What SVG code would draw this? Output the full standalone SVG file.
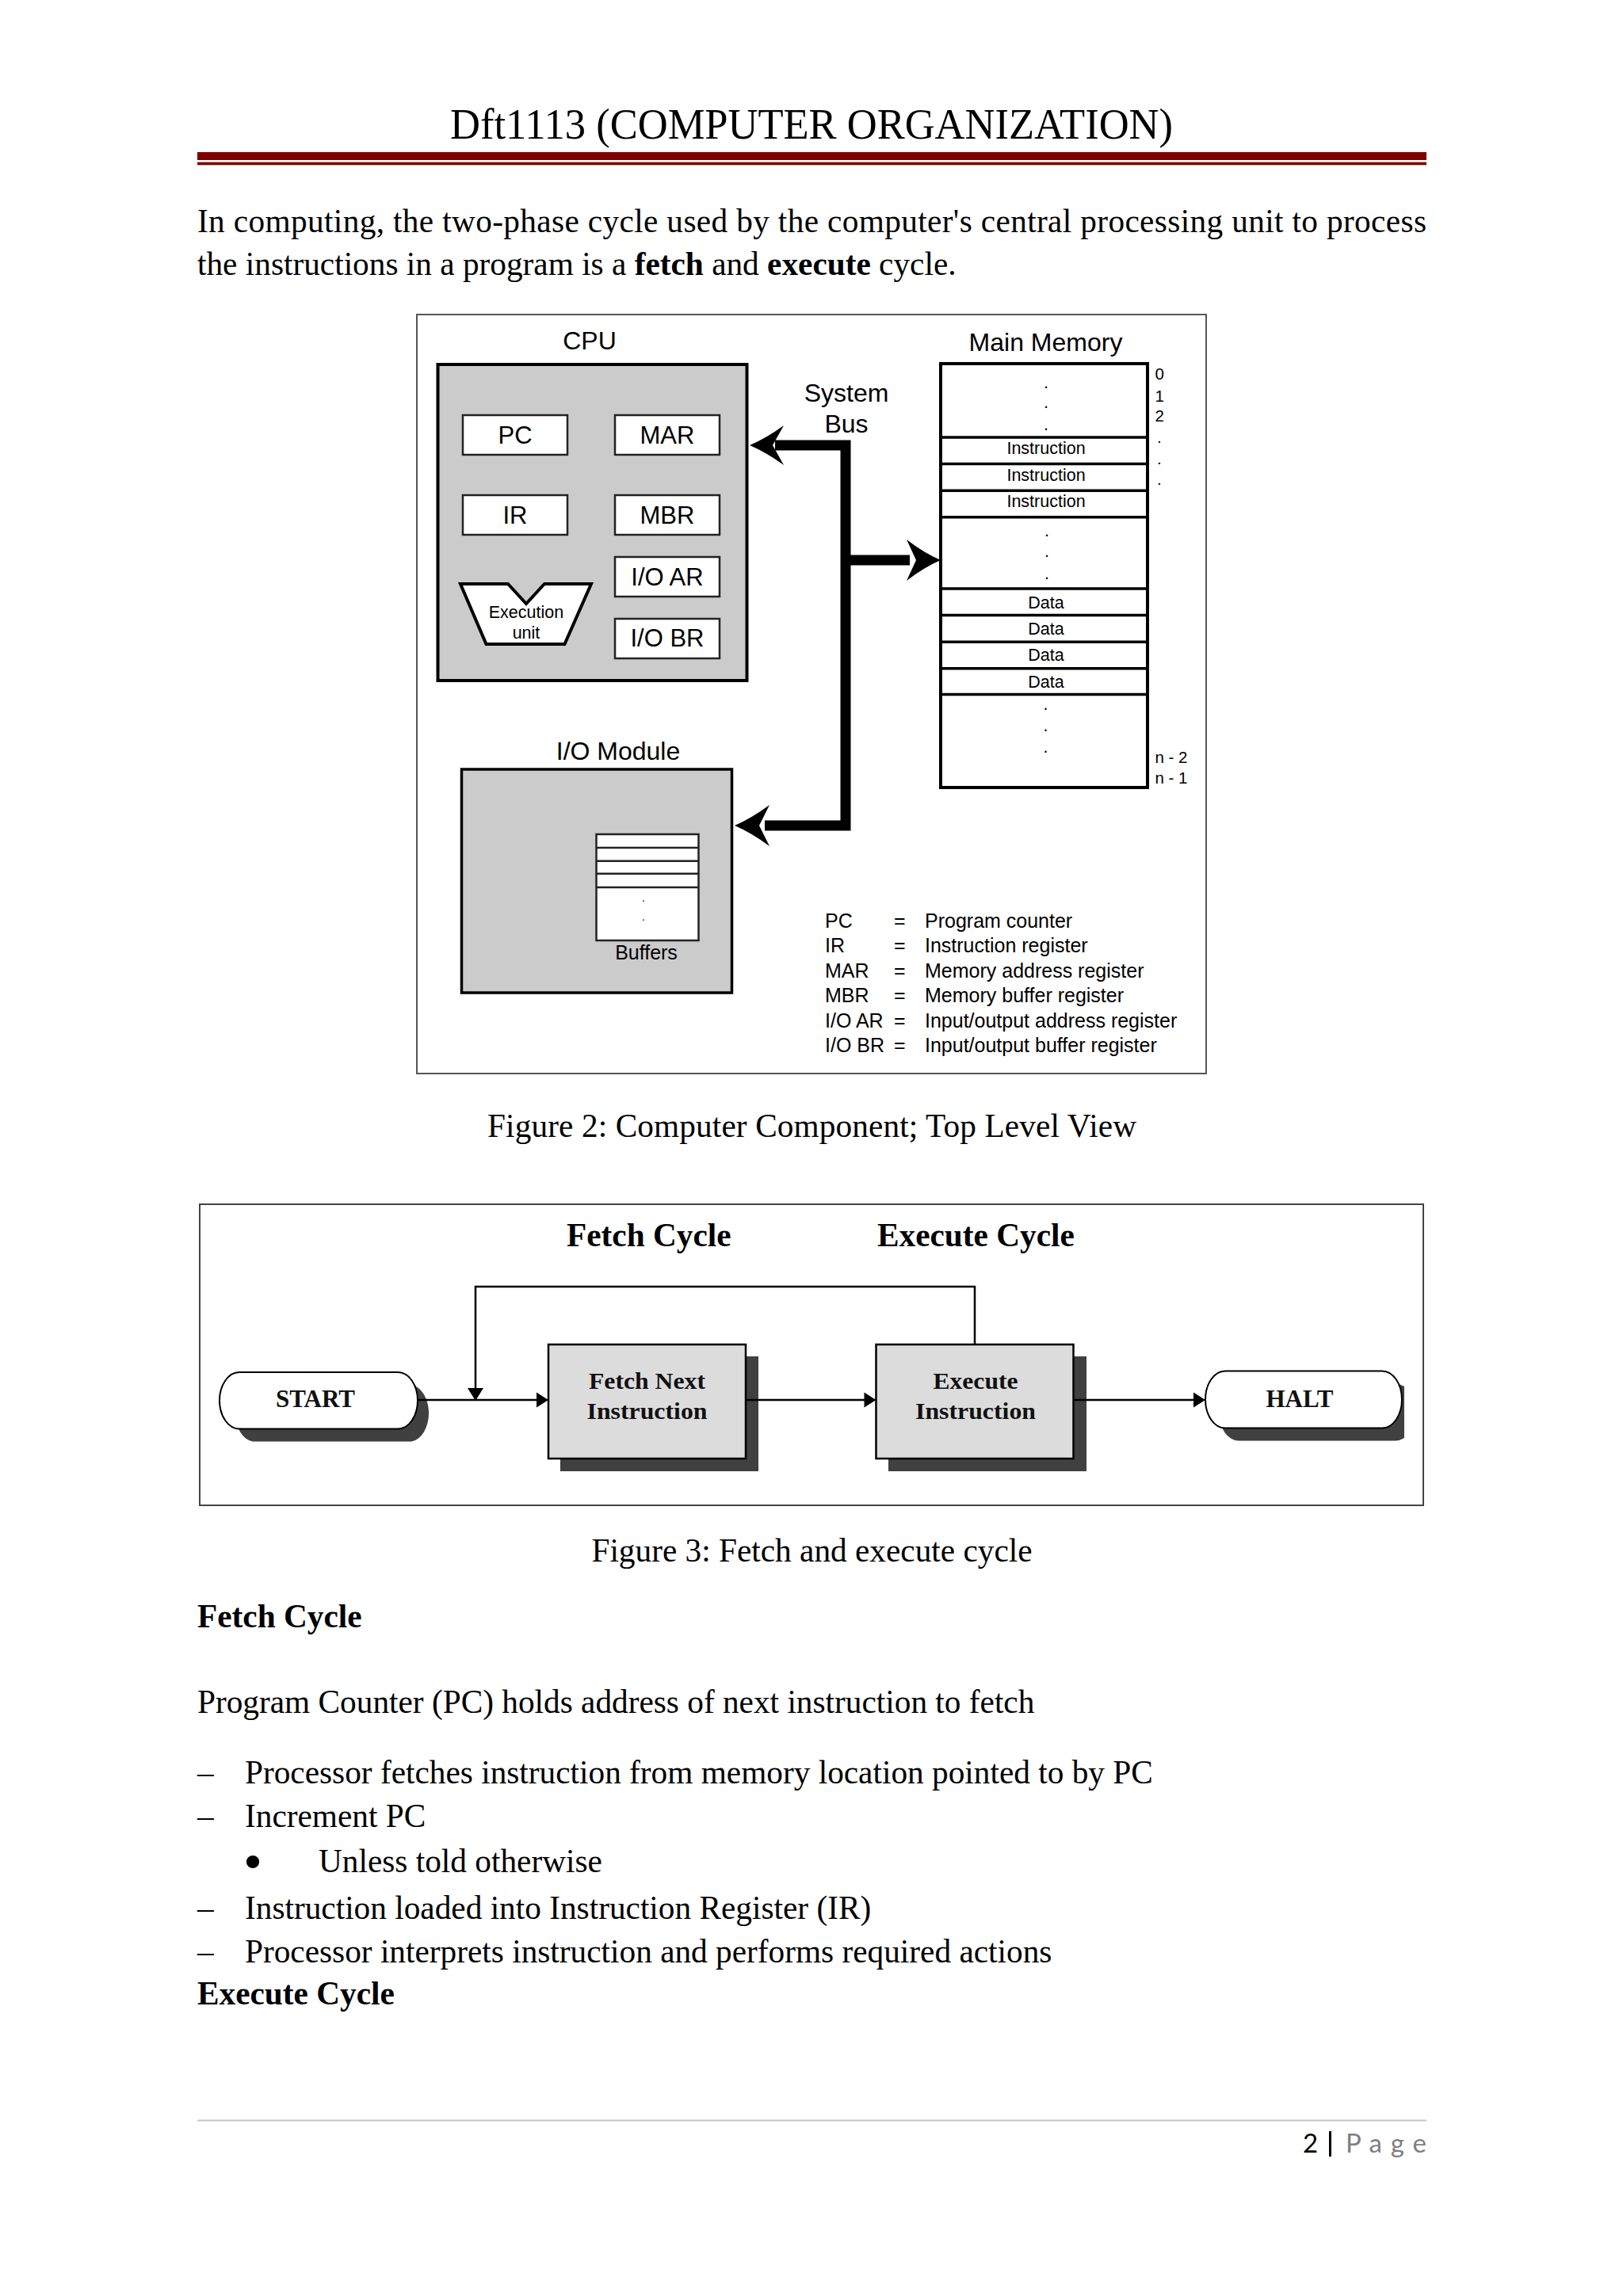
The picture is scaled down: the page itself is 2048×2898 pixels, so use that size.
<svg xmlns="http://www.w3.org/2000/svg" width="2048" height="2898" viewBox="0 0 2048 2898">
<defs>
<style>
.body{font-family:"Liberation Serif","Times New Roman",serif;font-size:41.3px;fill:#000}
.bold{font-weight:bold}
.sans{font-family:"Liberation Sans",Arial,sans-serif;fill:#000}
.reg{fill:#fff;stroke:#222;stroke-width:2.5}
.lbl{font-size:31px;text-anchor:middle}
.ttl{font-size:32px;text-anchor:middle}
.mem{font-size:21.5px;text-anchor:middle}
.addr{font-size:20.5px}
.leg{font-size:25px}
.rowline{stroke:#000;stroke-width:3.5}
.bus{fill:none;stroke:#000;stroke-width:13;stroke-linejoin:miter}
.head{fill:#000}
.flow{fill:none;stroke:#000;stroke-width:2.5}
.shadow{fill:#404040}
.pbox{fill:#dcdcdc;stroke:#000;stroke-width:2.5}
.pill{fill:#fff;stroke:#000;stroke-width:2}
.ftxt{font-family:"Liberation Serif","Times New Roman",serif;font-weight:bold;text-anchor:middle;fill:#111}
</style>
<clipPath id="haltclip"><rect x="1500" y="1700" width="272" height="140"/></clipPath>
</defs>
<rect width="2048" height="2898" fill="#fff"/>

<g id="header">
<text x="1024" y="175" text-anchor="middle" font-family="Liberation Serif, serif" font-size="54" textLength="912" lengthAdjust="spacingAndGlyphs">Dft1113 (COMPUTER ORGANIZATION)</text>
<rect x="249" y="192" width="1551" height="10" fill="#7f0000"/>
<rect x="249" y="204" width="1551" height="5" fill="#d9a5a5"/>
<rect x="249" y="205" width="1551" height="3" fill="#7f0000"/>
</g>

<g id="intro">
<text class="body" x="249" y="293" textLength="1551" lengthAdjust="spacing">In computing, the two-phase cycle used by the computer's central processing unit to process</text>
<text class="body" x="249" y="347">the instructions in a program is a <tspan class="bold">fetch</tspan> and <tspan class="bold">execute</tspan> cycle.</text>
</g>

<g id="figure2">
<rect id="fig2-frame" x="526" y="397" width="996" height="958" fill="none" stroke="#555" stroke-width="2"/>

<g id="cpu">
<text class="sans ttl" x="744" y="441">CPU</text>
<rect x="552.5" y="460" width="390" height="399" fill="#cbcbcb" stroke="#000" stroke-width="4"/>
</g>
<g id="pc"><rect class="reg" x="584" y="524" width="132" height="50"/><text class="sans lbl" x="650" y="560">PC</text></g>
<g id="mar"><rect class="reg" x="776" y="524" width="132" height="50"/><text class="sans lbl" x="842" y="560">MAR</text></g>
<g id="ir"><rect class="reg" x="584" y="625" width="132" height="50"/><text class="sans lbl" x="650" y="661">IR</text></g>
<g id="mbr"><rect class="reg" x="776" y="625" width="132" height="50"/><text class="sans lbl" x="842" y="661">MBR</text></g>
<g id="ioar"><rect class="reg" x="776" y="703" width="132" height="50"/><text class="sans lbl" x="842" y="738.5">I/O AR</text></g>
<g id="iobr"><rect class="reg" x="776" y="781" width="132" height="50"/><text class="sans lbl" x="842" y="816">I/O BR</text></g>
<g id="exec-unit">
<polygon points="581,737 641,737 664,762 687,737 746,737 712.5,813 613.5,813" fill="#fff" stroke="#000" stroke-width="4"/>
<text class="sans" font-size="21.5" text-anchor="middle" x="664" y="780">Execution</text>
<text class="sans" font-size="21.5" text-anchor="middle" x="664" y="806">unit</text>
</g>

<g id="system-bus-label">
<text class="sans ttl" x="1068" y="506.5">System</text>
<text class="sans ttl" x="1068" y="546">Bus</text>
</g>

<g id="main-memory">
<text class="sans ttl" x="1319.5" y="443">Main Memory</text>
<rect x="1187" y="459" width="261" height="535" fill="#fff" stroke="#000" stroke-width="4"/>
<line class="rowline" x1="1187" y1="552" x2="1448" y2="552"/>
<line class="rowline" x1="1187" y1="585.6" x2="1448" y2="585.6"/>
<line class="rowline" x1="1187" y1="619.2" x2="1448" y2="619.2"/>
<line class="rowline" x1="1187" y1="652.8" x2="1448" y2="652.8"/>
<line class="rowline" x1="1187" y1="743" x2="1448" y2="743"/>
<line class="rowline" x1="1187" y1="776.6" x2="1448" y2="776.6"/>
<line class="rowline" x1="1187" y1="810.2" x2="1448" y2="810.2"/>
<line class="rowline" x1="1187" y1="843.8" x2="1448" y2="843.8"/>
<line class="rowline" x1="1187" y1="876.6" x2="1448" y2="876.6"/>
<text class="sans mem" x="1320" y="489.5">.</text>
<text class="sans mem" x="1320" y="515">.</text>
<text class="sans mem" x="1320" y="543">.</text>
<text class="sans mem" x="1320" y="573">Instruction</text>
<text class="sans mem" x="1320" y="606.5">Instruction</text>
<text class="sans mem" x="1320" y="639.5">Instruction</text>
<text class="sans mem" x="1321" y="676.5">.</text>
<text class="sans mem" x="1321" y="703">.</text>
<text class="sans mem" x="1321" y="730.5">.</text>
<text class="sans mem" x="1320" y="767.5">Data</text>
<text class="sans mem" x="1320" y="801">Data</text>
<text class="sans mem" x="1320" y="834">Data</text>
<text class="sans mem" x="1320" y="867.5">Data</text>
<text class="sans mem" x="1319.5" y="895.5">.</text>
<text class="sans mem" x="1319.5" y="922.5">.</text>
<text class="sans mem" x="1319.5" y="950">.</text>
<text class="sans addr" x="1457.5" y="479">0</text>
<text class="sans addr" x="1457.5" y="506.5">1</text>
<text class="sans addr" x="1457.5" y="531.5">2</text>
<text class="sans addr" x="1460" y="558.5">.</text>
<text class="sans addr" x="1460" y="586">.</text>
<text class="sans addr" x="1460" y="612">.</text>
<text class="sans addr" x="1457.5" y="963">n - 2</text>
<text class="sans addr" x="1457.5" y="989">n - 1</text>
</g>

<g id="io-module">
<text class="sans ttl" x="780" y="959">I/O Module</text>
<rect x="582.5" y="971" width="341" height="282" fill="#cbcbcb" stroke="#000" stroke-width="3.5"/>
<rect x="752.5" y="1053" width="129" height="134" fill="#fff" stroke="#222" stroke-width="2.5"/>
<line x1="752.5" y1="1070" x2="881.5" y2="1070" stroke="#222" stroke-width="2.5"/>
<line x1="752.5" y1="1086.7" x2="881.5" y2="1086.7" stroke="#222" stroke-width="2.5"/>
<line x1="752.5" y1="1102.7" x2="881.5" y2="1102.7" stroke="#222" stroke-width="2.5"/>
<line x1="752.5" y1="1120" x2="881.5" y2="1120" stroke="#222" stroke-width="2.5"/>
<text class="sans" font-size="14" text-anchor="middle" x="812" y="1138">.</text>
<text class="sans" font-size="14" text-anchor="middle" x="812" y="1162">.</text>
<text class="sans" font-size="25" text-anchor="middle" x="815.5" y="1210.5">Buffers</text>
</g>

<g id="legend" class="sans leg">
<text x="1041" y="1170.5">PC</text><text x="1128" y="1170.5">=</text><text x="1167" y="1170.5">Program counter</text>
<text x="1041" y="1202">IR</text><text x="1128" y="1202">=</text><text x="1167" y="1202">Instruction register</text>
<text x="1041" y="1233.5">MAR</text><text x="1128" y="1233.5">=</text><text x="1167" y="1233.5">Memory address register</text>
<text x="1041" y="1265">MBR</text><text x="1128" y="1265">=</text><text x="1167" y="1265">Memory buffer register</text>
<text x="1041" y="1296.5">I/O AR</text><text x="1128" y="1296.5">=</text><text x="1167" y="1296.5">Input/output address register</text>
<text x="1041" y="1328">I/O BR</text><text x="1128" y="1328">=</text><text x="1167" y="1328">Input/output buffer register</text>
</g>

<g id="bus-connectors">
<path class="bus" d="M978 562 H1067 V1042 H965"/>
<path class="bus" d="M1067 707 H1148"/>
<path class="head" d="M946,562 Q967,553 989,537 L975,562 L989,587 Q967,571 946,562 Z"/>
<path class="head" d="M1187,707 Q1166,698 1144,681 L1156,707 L1144,733 Q1166,716 1187,707 Z"/>
<path class="head" d="M927,1042 Q948,1033 971,1016 L958,1042 L971,1068 Q948,1051 927,1042 Z"/>
</g>
</g>

<text class="body" x="1024.5" y="1435" text-anchor="middle" textLength="819" lengthAdjust="spacing">Figure 2: Computer Component; Top Level View</text>

<g id="figure3">
<rect id="fig3-frame" x="252" y="1520" width="1544" height="380" fill="none" stroke="#444" stroke-width="2"/>
<text class="body bold" x="715" y="1573">Fetch Cycle</text>
<text class="body bold" x="1107" y="1573">Execute Cycle</text>

<g id="start">
<path class="shadow" d="M319,1748 H519 A25,36 0 0 1 519,1819.5 H319 A25,36 0 0 1 319,1748 Z"/>
<path class="pill" d="M302,1732 H502 A25,35.75 0 0 1 502,1803.5 H302 A25,35.75 0 0 1 302,1732 Z"/>
<text class="ftxt" font-size="31" x="398" y="1776">START</text>
</g>

<g id="fetch-next">
<rect class="shadow" x="707" y="1712" width="250" height="145"/>
<rect class="pbox" x="692" y="1697" width="249" height="144"/>
<text class="ftxt" font-size="29" x="816.5" y="1752.5" textLength="147" lengthAdjust="spacingAndGlyphs">Fetch Next</text>
<text class="ftxt" font-size="29" x="816.5" y="1790.5" textLength="152" lengthAdjust="spacingAndGlyphs">Instruction</text>
</g>

<g id="execute">
<rect class="shadow" x="1121" y="1712" width="250" height="145"/>
<rect class="pbox" x="1105.5" y="1697" width="249" height="144"/>
<text class="ftxt" font-size="29" x="1231" y="1752.5" textLength="107" lengthAdjust="spacingAndGlyphs">Execute</text>
<text class="ftxt" font-size="29" x="1231" y="1790.5" textLength="152" lengthAdjust="spacingAndGlyphs">Instruction</text>
</g>

<g id="halt">
<path class="shadow" clip-path="url(#haltclip)" d="M1563,1746.5 H1761 A25,36 0 0 1 1761,1818.5 H1563 A25,36 0 0 1 1563,1746.5 Z"/>
<path class="pill" d="M1546,1730.5 H1744 A25,36 0 0 1 1744,1802.5 H1546 A25,36 0 0 1 1546,1730.5 Z"/>
<text class="ftxt" font-size="31" x="1640" y="1776">HALT</text>
</g>

<g id="flow-connectors">
<path class="flow" d="M527,1767 H679"/>
<path class="flow" d="M941,1767 H1092"/>
<path class="flow" d="M1355,1767 H1507"/>
<path class="flow" d="M1230,1697 V1624 H600 V1753"/>
<polygon class="head" points="692,1767 677,1757.5 677,1776.5"/>
<polygon class="head" points="1105.5,1767 1090.5,1757.5 1090.5,1776.5"/>
<polygon class="head" points="1521,1767 1506,1757.5 1506,1776.5"/>
<polygon class="head" points="600,1768 590,1752 610,1752"/>
</g>
</g>

<text class="body" x="1024.5" y="1971" text-anchor="middle">Figure 3: Fetch and execute cycle</text>

<g id="fetch-text">
<text class="body bold" x="249" y="2053.5">Fetch Cycle</text>
<text class="body" x="249" y="2161.5">Program Counter (PC) holds address of next instruction to fetch</text>
<text class="body" x="249" y="2251">–</text><text class="body" x="309" y="2251">Processor fetches instruction from memory location pointed to by PC</text>
<text class="body" x="249" y="2306">–</text><text class="body" x="309" y="2306">Increment PC</text>
<text x="319" y="2371" font-family="'DejaVu Sans', sans-serif" font-size="56" text-anchor="middle" fill="#000">•</text><text class="body" x="402" y="2363">Unless told otherwise</text>
<text class="body" x="249" y="2422">–</text><text class="body" x="309" y="2422">Instruction loaded into Instruction Register (IR)</text>
<text class="body" x="249" y="2476.5">–</text><text class="body" x="309" y="2476.5">Processor interprets instruction and performs required actions</text>
<text class="body bold" x="249" y="2529.5">Execute Cycle</text>
</g>

<g id="footer">
<line x1="249" y1="2676.5" x2="1800" y2="2676.5" stroke="#c6c6c6" stroke-width="2"/>
<text x="1644" y="2717" font-family="Lato, 'Open Sans', sans-serif" font-size="33" fill="#000">2</text>
<rect x="1677" y="2690" width="3" height="32" fill="#000"/>
<text x="1698" y="2717" font-family="Lato, 'Open Sans', sans-serif" font-size="33" fill="#7f7f7f" textLength="102" lengthAdjust="spacing">P a g e</text>
</g>
</svg>
